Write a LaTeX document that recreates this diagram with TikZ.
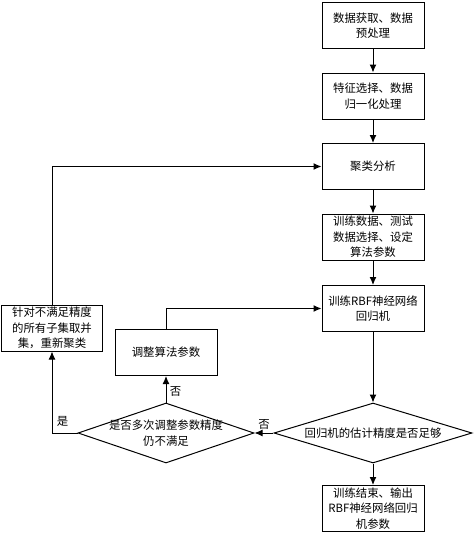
\documentclass[tikz,border=0pt]{standalone}
\usepackage{fontspec}
\setmainfont{Noto Sans CJK SC}
\usetikzlibrary{arrows.meta,shapes.geometric}

\begin{document}
\begin{tikzpicture}[x=1pt,y=-1pt,>={Latex[length=8pt,width=7pt]},line width=1pt,
		every node/.style={font=\fontsize{11.4}{15.5}\selectfont},
		stepbox/.style={draw,minimum width=102pt,minimum height=46pt,align=center,inner sep=1pt},
		decision/.style={draw,diamond,inner sep=0pt}]
		\useasboundingbox (0,0) rectangle (474,533);
		% main column
		\node[stepbox] (acquire) at (373,25.5) {数据获取、数据\\预处理};
		\node[stepbox] (feature) at (373,96) {特征选择、数据\\归一化处理};
		\node[stepbox] (cluster) at (373,166.5) {聚类分析};
		\node[stepbox] (select) at (373,237) {训练数据、测试\\数据选择、设定\\算法参数};
		\node[stepbox] (train) at (373,308.5) {训练RBF神经网络\\回归机};
		\node[decision,minimum width=198pt,minimum height=60pt,
			label={center:回归机的估计精度是否足够}] (enough) at (373,433) {};
		\node[stepbox] (finish) at (373,508.5) {训练结束、输出\\RBF神经网络回归\\机参数};
		% left side
		\node[decision,minimum width=176pt,minimum height=60pt,
			label={[align=center]center:是否多次调整参数精度\\仍不满足}] (repeat) at (166,433) {};
		\node[stepbox] (adjust) at (166,352.5) {调整算法参数};
		\node[stepbox,minimum width=101pt] (merge) at (52,328) {针对不满足精度\\的所有子集取并\\集，重新聚类};

		\draw[->] (acquire) -- (feature);
		\draw[->] (feature) -- (cluster);
		\draw[->] (cluster) -- (select);
		\draw[->] (select) -- (train);
		\draw[->] (train) -- (enough);
		\draw[->] (enough) -- (finish);
		\draw[->] (enough) -- node[above] {否} (repeat);
		\draw[->] (repeat) -- node[right=0pt,pos=.4] {否} (adjust);
		\draw[->] (repeat.west) -| node[right=1pt,pos=.57] {是} (merge.south);
		\draw[->] (merge.north) |- (cluster.west);
		\draw[->] (adjust.north) |- (train.west);
	\end{tikzpicture}
\end{document}
